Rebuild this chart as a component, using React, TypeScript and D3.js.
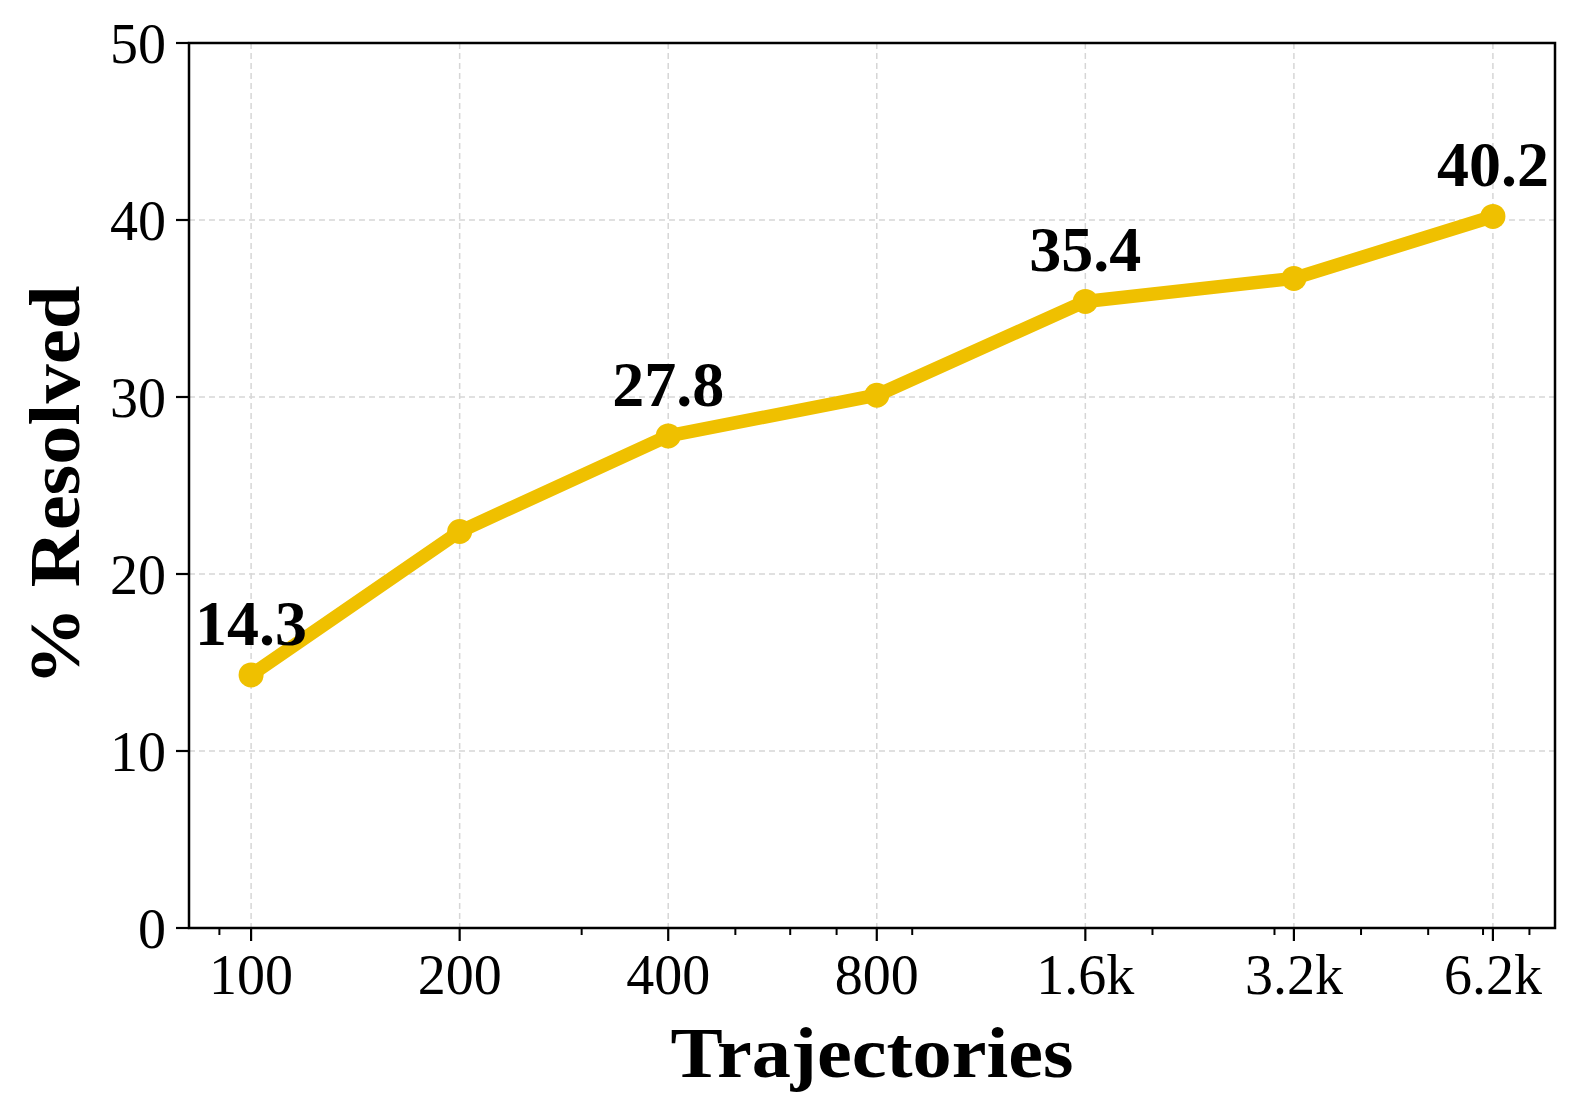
import * as d3 from 'd3'

const trajectories = [100, 200, 400, 800, 1600, 3200, 6200]
const tickLabels = ['100', '200', '400', '800', '1.6k', '3.2k', '6.2k']
const resolved = [14.3, 22.4, 27.8, 30.1, 35.4, 36.7, 40.2]
const annotated = [true, false, true, false, true, false, true]
const yTickValues = [0, 10, 20, 30, 40, 50]
const minorTicks = [90, 300, 500, 600, 700, 900, 2000, 3000, 4000, 5000, 6000, 7000]

const FONT = '"Liberation Serif", "DejaVu Serif", serif'

export default function App() {
  const width = 1578
  const height = 1120
  const margin = { top: 43, right: 23, bottom: 192, left: 189 }
  const w = width - margin.left - margin.right
  const h = height - margin.top - margin.bottom

  // log x, padded 5% of the log range on both ends (matplotlib margins)
  const lo = Math.log10(trajectories[0])
  const hi = Math.log10(trajectories[trajectories.length - 1])
  const pad = (hi - lo) * 0.05
  const xScale = d3
    .scaleLog()
    .domain([10 ** (lo - pad), 10 ** (hi + pad)])
    .range([0, w])
  const yScale = d3.scaleLinear().domain([0, 50]).range([h, 0])

  const line = d3
    .line<number>()
    .x((_, i) => xScale(trajectories[i]))
    .y((d) => yScale(d))

  const gold = '#EFC000'
  const grid = '#d6d6d6'

  return (
    <svg
      width={width}
      height={height}
      style={{ position: 'absolute', left: 0, top: 0, background: '#fff' }}
      fontFamily={FONT}
    >
      <g transform={`translate(${margin.left},${margin.top})`}>
        {/* grid */}
        <g stroke={grid} strokeWidth={1.5} strokeDasharray="6,4">
          {trajectories.map((t) => (
            <line key={t} x1={xScale(t)} x2={xScale(t)} y1={0} y2={h} />
          ))}
          {yTickValues.map((v) => (
            <line key={v} x1={0} x2={w} y1={yScale(v)} y2={yScale(v)} />
          ))}
        </g>

        {/* x axis */}
        <g transform={`translate(0,${h})`}>
          {minorTicks.map((t) => (
            <line key={t} x1={xScale(t)} x2={xScale(t)} y2={7} stroke="#000" strokeWidth={2} />
          ))}
          {trajectories.map((t, i) => (
            <g key={t} transform={`translate(${xScale(t)},0)`}>
              <line y2={13} stroke="#000" strokeWidth={2.2} />
              <text y={66} textAnchor="middle" fontSize={56} fill="#000">
                {tickLabels[i]}
              </text>
            </g>
          ))}
        </g>

        {/* y axis */}
        <g>
          {yTickValues.map((v) => (
            <g key={v} transform={`translate(0,${yScale(v)})`}>
              <line x2={-13} stroke="#000" strokeWidth={2.2} />
              <text x={-23} dy="0.36em" textAnchor="end" fontSize={56} fill="#000">
                {v}
              </text>
            </g>
          ))}
        </g>

        {/* frame */}
        <rect x={0} y={0} width={w} height={h} fill="none" stroke="#000" strokeWidth={2.5} />

        {/* series */}
        <path d={line(resolved)!} fill="none" stroke={gold} strokeWidth={13.5} strokeLinejoin="round" />
        {resolved.map((v, i) => (
          <circle key={i} cx={xScale(trajectories[i])} cy={yScale(v)} r={12.5} fill={gold} />
        ))}
        {resolved.map((v, i) =>
          annotated[i] ? (
            <text
              key={i}
              x={xScale(trajectories[i])}
              y={yScale(v) - 30}
              textAnchor="middle"
              fontSize={64}
              fontWeight="bold"
              fill="#000"
            >
              {v.toFixed(1)}
            </text>
          ) : null,
        )}

        {/* axis titles */}
        <text
          x={w / 2}
          y={h + 149}
          textAnchor="middle"
          fontSize={72}
          fontWeight="bold"
          textLength={403}
          lengthAdjust="spacingAndGlyphs"
        >
          Trajectories
        </text>
        <text
          transform={`translate(${79 - margin.left},${h / 2}) rotate(-90)`}
          textAnchor="middle"
          fontSize={72}
          fontWeight="bold"
          textLength={400}
          lengthAdjust="spacingAndGlyphs"
        >
          % Resolved
        </text>
      </g>
    </svg>
  )
}
